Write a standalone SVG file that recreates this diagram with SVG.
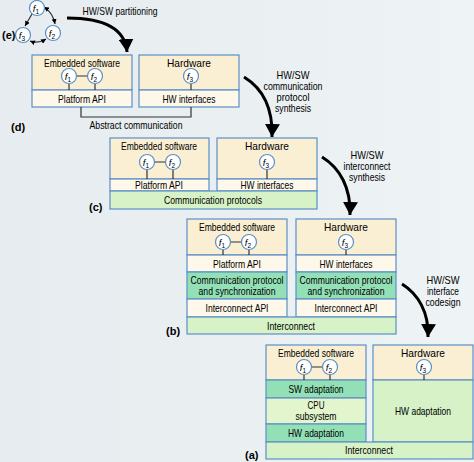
<svg xmlns="http://www.w3.org/2000/svg" width="474" height="462" viewBox="0 0 474 462">
<defs>
<linearGradient id="bg" x1="0" y1="0" x2="1" y2="0">
<stop offset="0" stop-color="#e6ecef"/>
<stop offset="1" stop-color="#eef3f5"/>
</linearGradient>
<marker id="big" viewBox="0 0 10 10" refX="10" refY="5" markerWidth="13" markerHeight="15" markerUnits="userSpaceOnUse" orient="auto" preserveAspectRatio="none">
<path d="M0,0 L10,5 L0,10 Z" fill="#000"/>
</marker>
<marker id="sm" viewBox="0 0 10 10" refX="10" refY="5" markerWidth="5" markerHeight="5" markerUnits="userSpaceOnUse" orient="auto-start-reverse">
<path d="M0,0 L10,5 L0,10 Z" fill="#000"/>
</marker>
</defs>
<style>
text{font-family:"Liberation Sans",Arial,sans-serif;font-size:11px;fill:#000;text-anchor:middle}
.lbl{font-weight:bold;text-anchor:start;font-size:11px}
.fi{font-style:italic;font-size:9.5px}
.sub{font-size:6.5px;font-style:normal}
.box{stroke:#5b8fc7;stroke-width:1.2}
.peach{fill:#fbefd3}
.cream{fill:#fdf8ea}
.dg{fill:#93e0b6}
.lg{fill:#d6f2c6}
.cpu{fill:#e2f5cc}
.ln{stroke:#333;stroke-width:1.2;fill:none}
.fc{fill:#fff;stroke:#5b8fc7;stroke-width:1.2}
.bigarrow{stroke:#000;stroke-width:3;fill:none}
</style>
<rect width="474" height="462" fill="url(#bg)"/>

<!-- (e) -->
<g id="e">
<g class="ln" stroke-width="1">
<path d="M32,14 L25,26" marker-end="url(#sm)"/>
<path d="M44,7 Q53,13 55,24" marker-start="url(#sm)" marker-end="url(#sm)"/>
<path d="M30,41 Q38,44 46,39" marker-start="url(#sm)" marker-end="url(#sm)"/>
</g>
<circle cx="37" cy="8" r="7.5" class="fc"/>
<circle cx="53" cy="33" r="7.5" class="fc"/>
<circle cx="23" cy="35" r="7.5" class="fc"/>
<text x="36" y="11.5" class="fi">f<tspan class="sub" dy="2">1</tspan></text>
<text x="52" y="36.5" class="fi">f<tspan class="sub" dy="2">2</tspan></text>
<text x="22" y="38.5" class="fi">f<tspan class="sub" dy="2">3</tspan></text>
<text x="2" y="39" class="lbl">(e)</text>
</g>

<!-- connectors (transformation arrows) -->
<g id="connectors">
<path class="bigarrow" d="M67,18 C100,18 125,26 127,52" marker-end="url(#big)"/>
<path class="bigarrow" d="M244,77 C262,88 273,108 272,137" marker-end="url(#big)"/>
<path class="bigarrow" d="M322,157 C340,168 351,188 350,215" marker-end="url(#big)"/>
<path class="bigarrow" d="M402,284 C418,294 429,312 428,337" marker-end="url(#big)"/>
<text x="120" y="15" textLength="75" lengthAdjust="spacingAndGlyphs">HW/SW partitioning</text>
<text x="293" y="79" textLength="33" lengthAdjust="spacingAndGlyphs">HW/SW</text>
<text x="293" y="90" textLength="59" lengthAdjust="spacingAndGlyphs">communication</text>
<text x="293" y="101" textLength="33" lengthAdjust="spacingAndGlyphs">protocol</text>
<text x="293" y="112" textLength="36" lengthAdjust="spacingAndGlyphs">synthesis</text>
<text x="367" y="159" textLength="33" lengthAdjust="spacingAndGlyphs">HW/SW</text>
<text x="367" y="170" textLength="47" lengthAdjust="spacingAndGlyphs">interconnect</text>
<text x="367" y="181" textLength="36" lengthAdjust="spacingAndGlyphs">synthesis</text>
<text x="443" y="284" textLength="33" lengthAdjust="spacingAndGlyphs">HW/SW</text>
<text x="443" y="295" textLength="32" lengthAdjust="spacingAndGlyphs">interface</text>
<text x="443" y="306" textLength="35" lengthAdjust="spacingAndGlyphs">codesign</text>
</g>

<!-- (d) -->
<g id="d-sw">
<rect class="box peach" x="32" y="55" width="100" height="35"/>
<rect class="box cream" x="32" y="90" width="100" height="17"/>
<text x="82" y="67" textLength="76" lengthAdjust="spacingAndGlyphs">Embedded software</text>
<path class="ln" d="M69,84 V90 M95,84 V90 M76,76 H88"/>
<circle cx="69" cy="76" r="7.5" class="fc"/>
<circle cx="95" cy="76" r="7.5" class="fc"/>
<text x="68" y="79.5" class="fi">f<tspan class="sub" dy="2">1</tspan></text>
<text x="94" y="79.5" class="fi">f<tspan class="sub" dy="2">2</tspan></text>
<text x="82" y="102.5" textLength="48" lengthAdjust="spacingAndGlyphs">Platform API</text>
</g>
<g id="d-hw">
<rect class="box peach" x="139" y="55" width="100" height="35"/>
<rect class="box cream" x="139" y="90" width="100" height="17"/>
<text x="189" y="67" textLength="44" lengthAdjust="spacingAndGlyphs">Hardware</text>
<path class="ln" d="M191,84 V90"/>
<circle cx="191" cy="76" r="7.5" class="fc"/>
<text x="190" y="79.5" class="fi">f<tspan class="sub" dy="2">3</tspan></text>
<text x="189" y="102.5" textLength="53" lengthAdjust="spacingAndGlyphs">HW interfaces</text>
</g>
<g id="d-abs">
<path class="ln" d="M81,107 V117 H191 V107"/>
<text x="136" y="129" textLength="93" lengthAdjust="spacingAndGlyphs">Abstract communication</text>
<text x="11" y="131" class="lbl">(d)</text>
</g>

<!-- (c) -->
<g id="c-sw">
<rect class="box peach" x="110" y="138" width="99" height="41"/>
<rect class="box cream" x="110" y="179" width="99" height="12"/>
<text x="159" y="150" textLength="76" lengthAdjust="spacingAndGlyphs">Embedded software</text>
<path class="ln" d="M147,170 V179 M173,170 V179 M154,162 H166"/>
<circle cx="147" cy="162" r="7.5" class="fc"/>
<circle cx="173" cy="162" r="7.5" class="fc"/>
<text x="146" y="165.5" class="fi">f<tspan class="sub" dy="2">1</tspan></text>
<text x="172" y="165.5" class="fi">f<tspan class="sub" dy="2">2</tspan></text>
<text x="159" y="189" textLength="48" lengthAdjust="spacingAndGlyphs">Platform API</text>
</g>
<g id="c-hw">
<rect class="box peach" x="217" y="138" width="100" height="41"/>
<rect class="box cream" x="217" y="179" width="100" height="12"/>
<text x="267" y="150" textLength="44" lengthAdjust="spacingAndGlyphs">Hardware</text>
<path class="ln" d="M267,170 V179"/>
<circle cx="267" cy="162" r="7.5" class="fc"/>
<text x="266" y="165.5" class="fi">f<tspan class="sub" dy="2">3</tspan></text>
<text x="267" y="189" textLength="53" lengthAdjust="spacingAndGlyphs">HW interfaces</text>
</g>
<g id="c-comm">
<rect class="box lg" x="110" y="191" width="207" height="18"/>
<text x="213" y="204" textLength="98" lengthAdjust="spacingAndGlyphs">Communication protocols</text>
<text x="89" y="211" class="lbl">(c)</text>
</g>

<!-- (b) -->
<g id="b-sw">
<rect class="box peach" x="187" y="219" width="100" height="36"/>
<rect class="box cream" x="187" y="255" width="100" height="17"/>
<rect class="box dg" x="187" y="272" width="100" height="27"/>
<rect class="box cream" x="187" y="299" width="100" height="18"/>
<text x="237" y="231" textLength="76" lengthAdjust="spacingAndGlyphs">Embedded software</text>
<path class="ln" d="M223,250 V255 M249,250 V255 M230,242 H242"/>
<circle cx="223" cy="242" r="7.5" class="fc"/>
<circle cx="249" cy="242" r="7.5" class="fc"/>
<text x="222" y="245.5" class="fi">f<tspan class="sub" dy="2">1</tspan></text>
<text x="248" y="245.5" class="fi">f<tspan class="sub" dy="2">2</tspan></text>
<text x="237" y="267.5" textLength="48" lengthAdjust="spacingAndGlyphs">Platform API</text>
<text x="237" y="284" textLength="93" lengthAdjust="spacingAndGlyphs">Communication protocol</text>
<text x="237" y="295" textLength="77" lengthAdjust="spacingAndGlyphs">and synchronization</text>
<text x="237" y="312" textLength="63" lengthAdjust="spacingAndGlyphs">Interconnect API</text>
</g>
<g id="b-hw">
<rect class="box peach" x="296" y="219" width="100" height="36"/>
<rect class="box cream" x="296" y="255" width="100" height="17"/>
<rect class="box dg" x="296" y="272" width="100" height="27"/>
<rect class="box cream" x="296" y="299" width="100" height="18"/>
<text x="346" y="231" textLength="44" lengthAdjust="spacingAndGlyphs">Hardware</text>
<path class="ln" d="M346,250 V255"/>
<circle cx="346" cy="242" r="7.5" class="fc"/>
<text x="345" y="245.5" class="fi">f<tspan class="sub" dy="2">3</tspan></text>
<text x="346" y="267.5" textLength="53" lengthAdjust="spacingAndGlyphs">HW interfaces</text>
<text x="346" y="284" textLength="93" lengthAdjust="spacingAndGlyphs">Communication protocol</text>
<text x="346" y="295" textLength="77" lengthAdjust="spacingAndGlyphs">and synchronization</text>
<text x="346" y="312" textLength="63" lengthAdjust="spacingAndGlyphs">Interconnect API</text>
</g>
<g id="b-ic">
<rect class="box lg" x="187" y="317" width="209" height="17"/>
<text x="291" y="330" textLength="48" lengthAdjust="spacingAndGlyphs">Interconnect</text>
<text x="166" y="335" class="lbl">(b)</text>
</g>

<!-- (a) -->
<g id="a-sw">
<rect class="box peach" x="266" y="345" width="100" height="35"/>
<rect class="box dg" x="266" y="380" width="100" height="18"/>
<rect class="box cpu" x="266" y="398" width="100" height="26"/>
<rect class="box dg" x="266" y="424" width="100" height="18"/>
<text x="316" y="357" textLength="76" lengthAdjust="spacingAndGlyphs">Embedded software</text>
<path class="ln" d="M304,375 V380 M330,375 V380 M311,367 H323"/>
<circle cx="304" cy="367" r="7.5" class="fc"/>
<circle cx="330" cy="367" r="7.5" class="fc"/>
<text x="303" y="370.5" class="fi">f<tspan class="sub" dy="2">1</tspan></text>
<text x="329" y="370.5" class="fi">f<tspan class="sub" dy="2">2</tspan></text>
<text x="316" y="393" textLength="55" lengthAdjust="spacingAndGlyphs">SW adaptation</text>
<text x="316" y="409" textLength="17" lengthAdjust="spacingAndGlyphs">CPU</text>
<text x="316" y="420" textLength="41" lengthAdjust="spacingAndGlyphs">subsystem</text>
<text x="316" y="437" textLength="56" lengthAdjust="spacingAndGlyphs">HW adaptation</text>
</g>
<g id="a-hw">
<rect class="box peach" x="373" y="345" width="100" height="35"/>
<rect class="box lg" x="373" y="380" width="100" height="62"/>
<text x="423" y="357" textLength="44" lengthAdjust="spacingAndGlyphs">Hardware</text>
<path class="ln" d="M424,375 V380"/>
<circle cx="424" cy="367" r="7.5" class="fc"/>
<text x="423" y="370.5" class="fi">f<tspan class="sub" dy="2">3</tspan></text>
<text x="423" y="415" textLength="56" lengthAdjust="spacingAndGlyphs">HW adaptation</text>
</g>
<g id="a-ic">
<rect class="box lg" x="266" y="442" width="207" height="17"/>
<text x="369" y="454" textLength="48" lengthAdjust="spacingAndGlyphs">Interconnect</text>
<text x="245" y="459" class="lbl">(a)</text>
</g>
</svg>
